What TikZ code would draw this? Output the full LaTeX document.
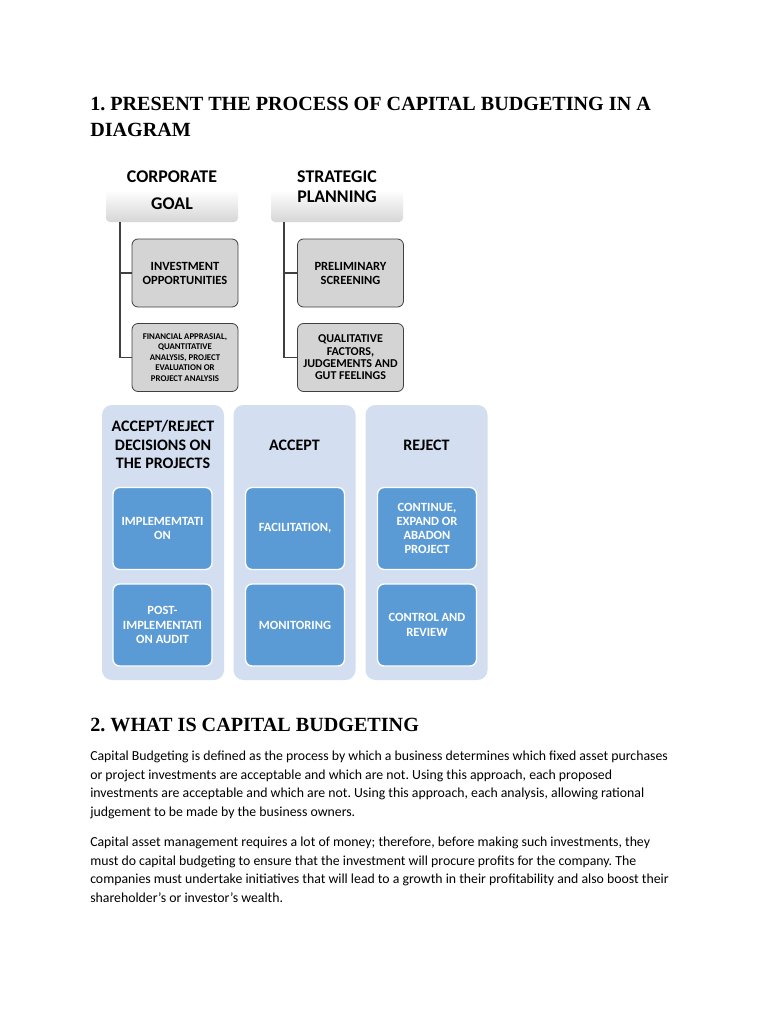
\documentclass[tikz,border=0pt]{standalone}
\usepackage{fontspec}
\setmainfont{Carlito}
\newfontfamily\headfont{Liberation Serif}
\usetikzlibrary{positioning}
\frenchspacing

\definecolor{boxgray}{HTML}{D4D4D4}
\definecolor{linegray}{HTML}{404040}
\definecolor{panelblue}{HTML}{D3DFF0}
\definecolor{cellblue}{HTML}{5B9BD5}
\definecolor{bargray}{HTML}{D6D6D6}

\begin{document}
\begin{tikzpicture}[x=0.75pt,y=-0.75pt,
    conn/.style={draw=linegray, line width=0.8pt},
    bar/.style={rounded corners=3pt, top color=white, bottom color=bargray,
        minimum width=99pt, minimum height=24pt, inner sep=0pt},
    bartext/.style={align=center, inner sep=0pt, font=\bfseries\fontsize{13.4}{20}\selectfont},
    graybox/.style={draw=linegray, fill=boxgray, rounded corners=4.5pt, line width=0.6pt,
        minimum width=79.5pt, minimum height=51pt, inner sep=1pt, align=center,
        font=\bfseries\fontsize{9.4}{10.5}\selectfont},
    panel/.style={fill=panelblue, rounded corners=7.5pt, minimum width=91.5pt,
        minimum height=206.25pt, inner sep=0pt},
    paneltitle/.style={align=center, inner sep=0pt, font=\bfseries\fontsize{12}{13.9}\selectfont},
    cell/.style={draw=white, fill=cellblue, rounded corners=5pt, line width=1pt,
        minimum width=74.25pt, minimum height=61.5pt, inner sep=1pt, align=center,
        text=white, font=\bfseries\fontsize{9.4}{10.7}\selectfont},
    heading/.style={anchor=north west, inner sep=0pt, align=left,
        font=\headfont\bfseries\fontsize{15.1}{19.5}\selectfont},
    para/.style={anchor=north west, inner sep=0pt, align=left,
        font=\fontsize{10.35}{13.9}\selectfont}
  ]
  \useasboundingbox[fill=white] (0,0) rectangle (768,1024);

  % section 1
  \node[heading] (head1) at (90,97) {1. PRESENT THE PROCESS OF CAPITAL BUDGETING IN A\\DIAGRAM};

  % top tree
  \node[bar] (goal) at (172,206) {};
  \node[bartext] (goaltext) at (172,190) {CORPORATE\\GOAL};
  \node[bar] (plan) at (337,206) {};
  \node[bartext, font=\bfseries\fontsize{13.4}{15}\selectfont] (plantext) at (337,187) {STRATEGIC\\PLANNING};

  \node[graybox] (invest) at (185,273) {INVESTMENT\\OPPORTUNITIES};
  \node[graybox, font=\bfseries\fontsize{6.6}{7.9}\selectfont] (fin) at (185,357.5)
    {FINANCIAL APPRASIAL,\\QUANTITATIVE\\ANALYSIS, PROJECT\\EVALUATION OR\\PROJECT ANALYSIS};
  \node[graybox] (prelim) at (350.5,273) {PRELIMINARY\\SCREENING};
  \node[graybox, font=\bfseries\fontsize{9}{9.2}\selectfont] (qual) at (350.5,357.5)
    {QUALITATIVE\\FACTORS,\\JUDGEMENTS AND\\GUT FEELINGS};

  \coordinate (goalfoot) at (120,222);
  \coordinate (planfoot) at (284,222);
  \draw[conn] (goalfoot) |- (invest.west);
  \draw[conn] (goalfoot) |- (fin.west);
  \draw[conn] (planfoot) |- (prelim.west);
  \draw[conn] (planfoot) |- (qual.west);

  % decision panels
  \node[panel] (colA) at (163,542.5) {};
  \node[panel] (colB) at (294.5,542.5) {};
  \node[panel] (colC) at (426.5,542.5) {};

  \node[paneltitle] (titleA) at (163,444.5) {ACCEPT/REJECT\\DECISIONS ON\\THE PROJECTS};
  \node[paneltitle] (titleB) at (294.5,445) {ACCEPT};
  \node[paneltitle] (titleC) at (426.5,445) {REJECT};

  \node[cell] (implA) at (162.5,528.5) {IMPLEMEMTATI\\ON};
  \node[cell] (auditA) at (162.5,625) {POST-\\IMPLEMENTATI\\ON AUDIT};
  \node[cell] (facB) at (295,528.5) {FACILITATION,};
  \node[cell] (monB) at (295,625) {MONITORING};
  \node[cell] (contC) at (427,528.5) {CONTINUE,\\EXPAND OR\\ABADON\\PROJECT};
  \node[cell] (ctrlC) at (427,625) {CONTROL AND\\REVIEW};

  % section 2
  \node[heading] (head2) at (90,718) {2. WHAT IS CAPITAL BUDGETING};
  \node[para] (par1) at (90,751) {Capital Budgeting is defined as the process by which a business determines which fixed asset purchases\\
    or project investments are acceptable and which are not. Using this approach, each proposed\\
    investments are acceptable and which are not. Using this approach, each analysis, allowing rational\\
    judgement to be made by the business owners.};
  \node[para] (par2) at (90,837) {Capital asset management requires a lot of money; therefore, before making such investments, they\\
    must do capital budgeting to ensure that the investment will procure profits for the company. The\\
    companies must undertake initiatives that will lead to a growth in their profitability and also boost their\\
    shareholder's or investor's wealth.};
\end{tikzpicture}
\end{document}
